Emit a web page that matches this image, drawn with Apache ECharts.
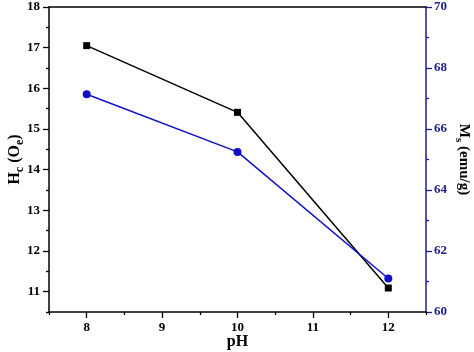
<!DOCTYPE html>
<html>
<head>
<meta charset="utf-8">
<script src="https://cdn.jsdelivr.net/npm/echarts@6/dist/echarts.min.js"></script>
<style>
    html, body {margin: 0; padding: 0; background: #fff;}
    #chart {width: 474px; height: 352px;}
</style>
</head>
<body>
<div id="chart"></div>
<script>
    // values
    const phValues = [8, 10, 12];
    const hcValues = [17.05, 15.41, 11.09];
    const msValues = [67.14, 65.25, 61.10];

    const xMajorTicks = [8, 9, 10, 11, 12];
    const xMinorTicks = [7.5, 8.5, 9.5, 10.5, 11.5, 12.5];
    const hcMajorTicks = [11, 12, 13, 14, 15, 16, 17, 18];
    const hcMinorTicks = [10.5, 11.5, 12.5, 13.5, 14.5, 15.5, 16.5, 17.5];

    const serif = '"Liberation Serif", "Times New Roman", serif';
    const navy = '#1c1c8c';

    let chart = echarts.init(document.getElementById('chart'));

    let tickLabel = {
        fontFamily: serif,
        fontWeight: 'bold',
        fontSize: 13,
        color: '#000'
    };

    let option = {
        animation: false,
        grid: {left: 49, right: 48, top: 7, bottom: 40, containLabel: false, outerBoundsMode: 'none'},
        xAxis: [
            {
                type: 'value',
                min: 7.5,
                max: 12.5,
                position: 'bottom',
                name: 'pH',
                nameLocation: 'middle',
                nameGap: 22,
                nameMoveOverlap: false,
                nameTextStyle: {fontFamily: serif, fontWeight: 'bold', fontSize: 16, color: '#000'},
                axisLine: {lineStyle: {color: '#000', width: 1.5}},
                axisTick: {customValues: xMajorTicks, length: 6, lineStyle: {color: '#000', width: 1.3}},
                axisLabel: Object.assign({customValues: xMajorTicks, margin: 9}, tickLabel),
                splitLine: {show: false}
            },
            {
                type: 'value',
                min: 7.5,
                max: 12.5,
                position: 'bottom',
                axisLine: {show: false},
                axisTick: {customValues: xMinorTicks, length: 3, lineStyle: {color: '#000', width: 1.3}},
                axisLabel: {show: false},
                splitLine: {show: false}
            },
            {
                type: 'value',
                min: 7.5,
                max: 12.5,
                position: 'top',
                axisLine: {lineStyle: {color: '#000', width: 1.5}},
                axisTick: {show: false},
                axisLabel: {show: false},
                splitLine: {show: false}
            }
        ],
        yAxis: [
            {
                type: 'value',
                min: 10.5,
                max: 18,
                position: 'left',
                name: '{b|H}{s|c}{b| (O}{s|e}{b|)}',
                nameLocation: 'middle',
                nameRotate: 90,
                nameGap: 23,
                nameMoveOverlap: false,
                nameTextStyle: {
                    rich: {
                        b: {fontFamily: serif, fontWeight: 'bold', fontSize: 16, color: '#000', lineHeight: 22, verticalAlign: 'middle'},
                        s: {fontFamily: serif, fontWeight: 'bold', fontSize: 12, color: '#000', lineHeight: 22, verticalAlign: 'bottom', padding: [8, 0, 0, 0]}
                    }
                },
                axisLine: {lineStyle: {color: '#000', width: 1.5}},
                axisTick: {customValues: hcMajorTicks, length: 6, lineStyle: {color: '#000', width: 1.3}},
                axisLabel: Object.assign({customValues: hcMajorTicks, margin: 9}, tickLabel),
                splitLine: {show: false}
            },
            {
                type: 'value',
                min: 60,
                max: 70,
                interval: 2,
                position: 'right',
                name: '{b|M}{s|s}{b| (emu/g)}',
                nameLocation: 'middle',
                nameRotate: -90,
                nameGap: 27,
                nameMoveOverlap: false,
                nameTextStyle: {
                    rich: {
                        b: {fontFamily: serif, fontWeight: 'bold', fontSize: 15, color: '#000', lineHeight: 22, verticalAlign: 'middle'},
                        s: {fontFamily: serif, fontWeight: 'bold', fontSize: 11, color: '#000', lineHeight: 22, verticalAlign: 'bottom', padding: [8, 0, 0, 0]}
                    }
                },
                axisLine: {lineStyle: {color: navy, width: 1.5}},
                axisTick: {length: 6, lineStyle: {color: navy, width: 1.3}},
                minorTick: {show: true, splitNumber: 2, length: 3, lineStyle: {color: navy, width: 1.3}},
                axisLabel: Object.assign({}, tickLabel, {color: navy, margin: 8}),
                splitLine: {show: false},
                minorSplitLine: {show: false}
            },
            {
                type: 'value',
                min: 10.5,
                max: 18,
                position: 'left',
                axisLine: {show: false},
                axisTick: {customValues: hcMinorTicks, length: 3, lineStyle: {color: '#000', width: 1.3}},
                axisLabel: {show: false},
                splitLine: {show: false}
            }
        ],
        series: [
            {
                name: 'Hc',
                type: 'line',
                xAxisIndex: 0,
                yAxisIndex: 0,
                data: phValues.map((p, i) => [p, hcValues[i]]),
                symbol: 'rect',
                symbolSize: 7,
                lineStyle: {color: '#000', width: 1.5},
                itemStyle: {color: '#000'}
            },
            {
                name: 'Ms',
                type: 'line',
                xAxisIndex: 0,
                yAxisIndex: 1,
                data: phValues.map((p, i) => [p, msValues[i]]),
                symbol: 'circle',
                symbolSize: 8,
                lineStyle: {color: '#1010c8', width: 1.5},
                itemStyle: {color: '#1010c8'}
            }
        ]
    };

    chart.setOption(option);
</script>
</body>
</html>
